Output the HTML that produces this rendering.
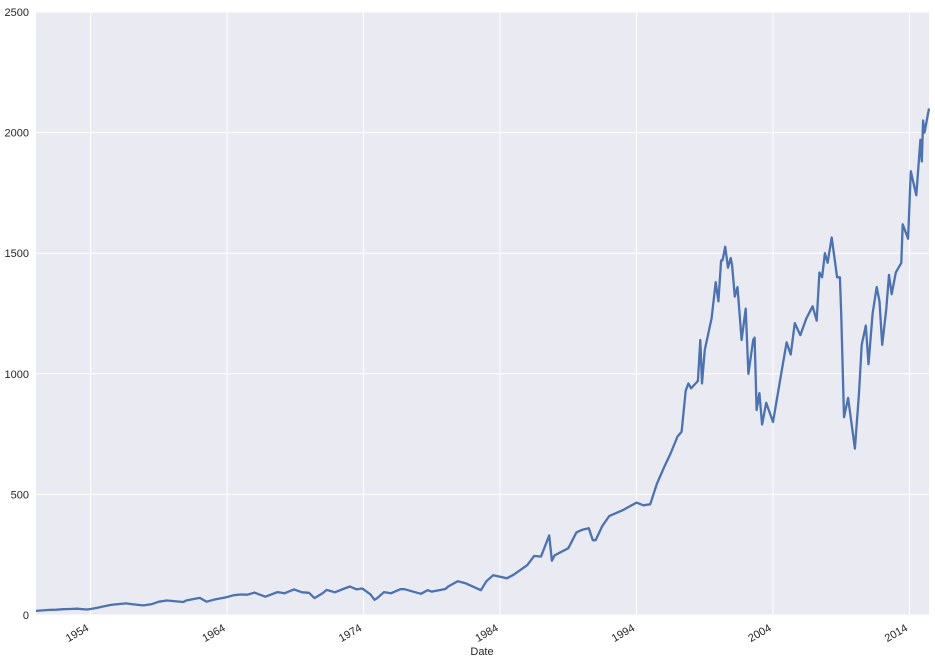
<!DOCTYPE html>
<html><head><meta charset="utf-8"><style>
body{margin:0;background:#fff;font-family:"Liberation Sans",sans-serif}
svg text{font-family:"Liberation Sans",sans-serif;fill:#262626;font-size:11px}
</style></head><body>
<svg id="chart" width="935" height="664" xmlns="http://www.w3.org/2000/svg">
<rect x="36" y="12" width="893" height="603" fill="#eaeaf2"/>
<g id="grid"></g><g id="ticks"></g>
<path id="line" fill="none" stroke="#4c72b0" stroke-width="2.3" stroke-linejoin="round"/>
<text x="482" y="655" text-anchor="middle">Date</text>
</svg>
<script>
const dates=[1950.0,1950.5,1951.0,1951.5,1952.0,1952.5,1953.0,1953.7,1954.0,1954.5,1955.0,1955.5,1956.0,1956.6,1957.0,1957.8,1958.0,1958.5,1959.0,1959.6,1960.0,1960.8,1961.0,1961.9,1962.0,1962.5,1963.0,1963.9,1964.5,1965.0,1965.5,1966.0,1966.8,1967.0,1967.7,1968.2,1968.9,1969.5,1970.0,1970.4,1971.0,1971.3,1971.9,1972.5,1973.0,1973.5,1973.9,1974.5,1974.8,1975.0,1975.5,1976.0,1976.7,1977.0,1978.2,1978.7,1979.0,1980.0,1980.2,1980.9,1981.5,1982.6,1983.0,1983.5,1984.5,1985.0,1986.0,1986.5,1987.0,1987.6,1987.8,1988.0,1989.0,1989.6,1990.0,1990.5,1990.8,1991.0,1991.5,1992.0,1993.0,1994.0,1994.5,1995.0,1995.5,1996.0,1996.5,1997.0,1997.3,1997.6,1997.8,1998.0,1998.5,1998.67,1998.8,1999.0,1999.5,1999.8,2000.0,2000.2,2000.3,2000.5,2000.7,2000.9,2001.0,2001.2,2001.4,2001.7,2002.0,2002.2,2002.55,2002.65,2002.8,2003.0,2003.2,2003.5,2004.0,2004.6,2005.0,2005.3,2005.6,2006.0,2006.45,2006.9,2007.2,2007.4,2007.6,2007.8,2008.0,2008.3,2008.7,2008.9,2009.0,2009.2,2009.5,2010.0,2010.3,2010.5,2010.8,2011.0,2011.3,2011.6,2011.8,2012.0,2012.3,2012.5,2012.7,2013.0,2013.4,2013.5,2013.9,2014.1,2014.5,2014.8,2014.9,2015.0,2015.1,2015.43];
const closes=[17,19,21,22,24,25,26,23,25,30,36,42,45,48,45,40,41,45,55,60,58,54,60,70,71,55,63,73,82,85,84,93,76,80,95,90,106,94,92,70,90,104,94,108,118,106,110,86,63,70,95,90,107,107,88,103,97,108,118,140,131,103,140,165,152,167,207,245,242,330,225,247,277,343,353,360,310,310,370,410,435,466,455,459,545,610,670,740,760,930,960,940,970,1140,960,1100,1230,1380,1300,1470,1470,1527,1440,1480,1450,1320,1360,1140,1270,1000,1140,1150,850,920,790,880,800,1000,1130,1080,1210,1160,1230,1280,1220,1420,1400,1500,1460,1565,1400,1400,1250,820,900,690,920,1120,1200,1040,1250,1360,1300,1120,1270,1410,1330,1420,1460,1620,1560,1840,1740,1970,1880,2050,2000,2100,2130];
const yTicks=[0,500,1000,1500,2000,2500];
const xTicks=[1954,1964,1974,1984,1994,2004,2014];
const X=d=>36+(d-1950.0)/(2015.43-1950.0)*893;
const Y=v=>615-v/2500*603;
const NS='http://www.w3.org/2000/svg';
const grid=document.getElementById('grid'),ticks=document.getElementById('ticks');
yTicks.forEach(v=>{
 const l=document.createElementNS(NS,'line');
 
 
 l.setAttribute('x1',36);l.setAttribute('x2',929);l.setAttribute('y1',Y(v));l.setAttribute('y2',Y(v));
 l.setAttribute('stroke','#fff');l.setAttribute('stroke-width','1');grid.appendChild(l);
 const t=document.createElementNS(NS,'text');
 
 
 t.setAttribute('x',29);t.setAttribute('y',Y(v)+4);t.setAttribute('text-anchor','end');t.textContent=v;ticks.appendChild(t);
});
xTicks.forEach(d=>{
 const l=document.createElementNS(NS,'line');
 
 
 l.setAttribute('x1',X(d));l.setAttribute('x2',X(d));l.setAttribute('y1',12);l.setAttribute('y2',615);
 l.setAttribute('stroke','#fff');l.setAttribute('stroke-width','1');grid.appendChild(l);
 const t=document.createElementNS(NS,'text');
 
 
 const x=X(d)-1,y=630;
 t.setAttribute('x',x);t.setAttribute('y',y);t.setAttribute('text-anchor','end');
 t.setAttribute('transform','rotate(-30 '+x+' '+y+')');t.textContent=d;ticks.appendChild(t);
});
document.getElementById('line').setAttribute('d',dates.map((d,i)=>(i?'L':'M')+X(d).toFixed(1)+' '+Y(closes[i]).toFixed(1)).join(''));
</script>
</body></html>
